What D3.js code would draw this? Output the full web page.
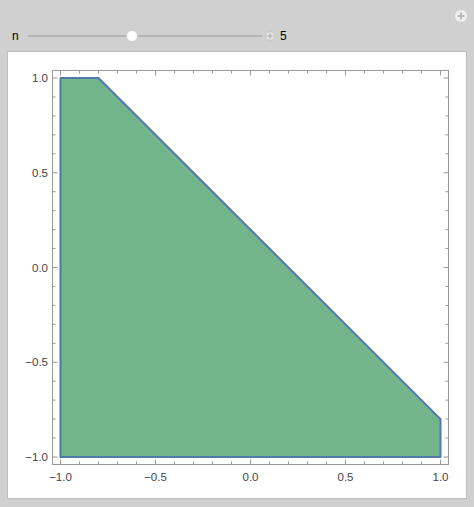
<!DOCTYPE html><html><head><script src="https://cdn.jsdelivr.net/npm/d3@7"></script>
<style>body{margin:0;background:#cfcfcf;font-family:"Liberation Sans",Arial,sans-serif}</style></head><body>
<svg id="c" width="474" height="507"></svg>
<script>
const polyX=[-1,-1,-0.8,1,1];
const polyY=[-1,1,1,-0.8,-1];
const xTicks=[-1,-0.5,0,0.5,1];
const yTicks=[-1,-0.5,0,0.5,1];
const svg=d3.select("#c");
svg.append("rect").attr("width",474).attr("height",507).attr("fill","#d0d0d0");
// plus icon
svg.append("circle").attr("cx",461).attr("cy",16).attr("r",6).attr("fill","#f0f0f0");
svg.append("path").attr("d","M457.5,16H464.5M461,12.5V19.5").attr("stroke","#b8b8b8").attr("stroke-width",2);
// slider
svg.append("text").attr("x",12).attr("y",40).attr("font-size",12).text("n");
svg.append("line").attr("x1",28).attr("x2",262).attr("y1",36).attr("y2",36).attr("stroke","#b5b5b5").attr("stroke-width",2);
svg.append("circle").attr("cx",132).attr("cy",36).attr("r",5.5).attr("fill","#fff").attr("stroke","#bbb").attr("stroke-width",0.5);
svg.append("rect").attr("x",266).attr("y",32).attr("width",8).attr("height",8).attr("rx",2).attr("fill","#e4e4e4").attr("stroke","#bbb").attr("stroke-width",0.5);
svg.append("path").attr("d","M267.5,36H272.5M270,33.5V38.5").attr("stroke","#aaa");
svg.append("text").attr("x",280).attr("y",40).attr("font-size",12).text("5");
// panel
svg.append("rect").attr("x",7.5).attr("y",51.5).attr("width",459).attr("height",447).attr("fill","#fff").attr("stroke","#bdbdbd");
const x=d3.scaleLinear().domain([-1,1]).range([60.5,440.5]);
const y=d3.scaleLinear().domain([-1,1]).range([457,78]);
const L=52.5,R=448.5,T=70.5,B=464.5;
svg.append("path").datum(polyX.map((v,i)=>[v,polyY[i]])).attr("d",d=>d3.line().x(p=>x(p[0])).y(p=>y(p[1]))(d)+"Z")
 .attr("fill","#72b58a").attr("stroke","#5079ac").attr("stroke-width",2).attr("stroke-linejoin","round");
svg.append("rect").attr("x",L).attr("y",T).attr("width",R-L).attr("height",B-T).attr("fill","none").attr("stroke","#999");
const minor=d3.range(-10,11).map(i=>i/10);
const g=svg.append("g").attr("stroke","#999");
minor.forEach(v=>{const m=Math.abs(Math.round(v*10))%5===0;const len=m?5:3;
 g.append("line").attr("x1",x(v)).attr("x2",x(v)).attr("y1",B).attr("y2",B-len);
 g.append("line").attr("x1",x(v)).attr("x2",x(v)).attr("y1",T).attr("y2",T+len);
 g.append("line").attr("y1",y(v)).attr("y2",y(v)).attr("x1",L).attr("x2",L+len);
 g.append("line").attr("y1",y(v)).attr("y2",y(v)).attr("x1",R).attr("x2",R-len);});
const fmt=v=>(v<0?"\u22121.0".replace("1.0",Math.abs(v).toFixed(1)):v.toFixed(1));
xTicks.forEach(v=>svg.append("text").attr("x",x(v)).attr("y",481).attr("text-anchor","middle").attr("font-size",11.5).attr("fill","#444").text(fmt(v)));
yTicks.forEach(v=>svg.append("text").attr("x",48).attr("y",y(v)+4).attr("text-anchor","end").attr("font-size",11.5).attr("fill","#444").text(fmt(v)));
</script></body></html>
